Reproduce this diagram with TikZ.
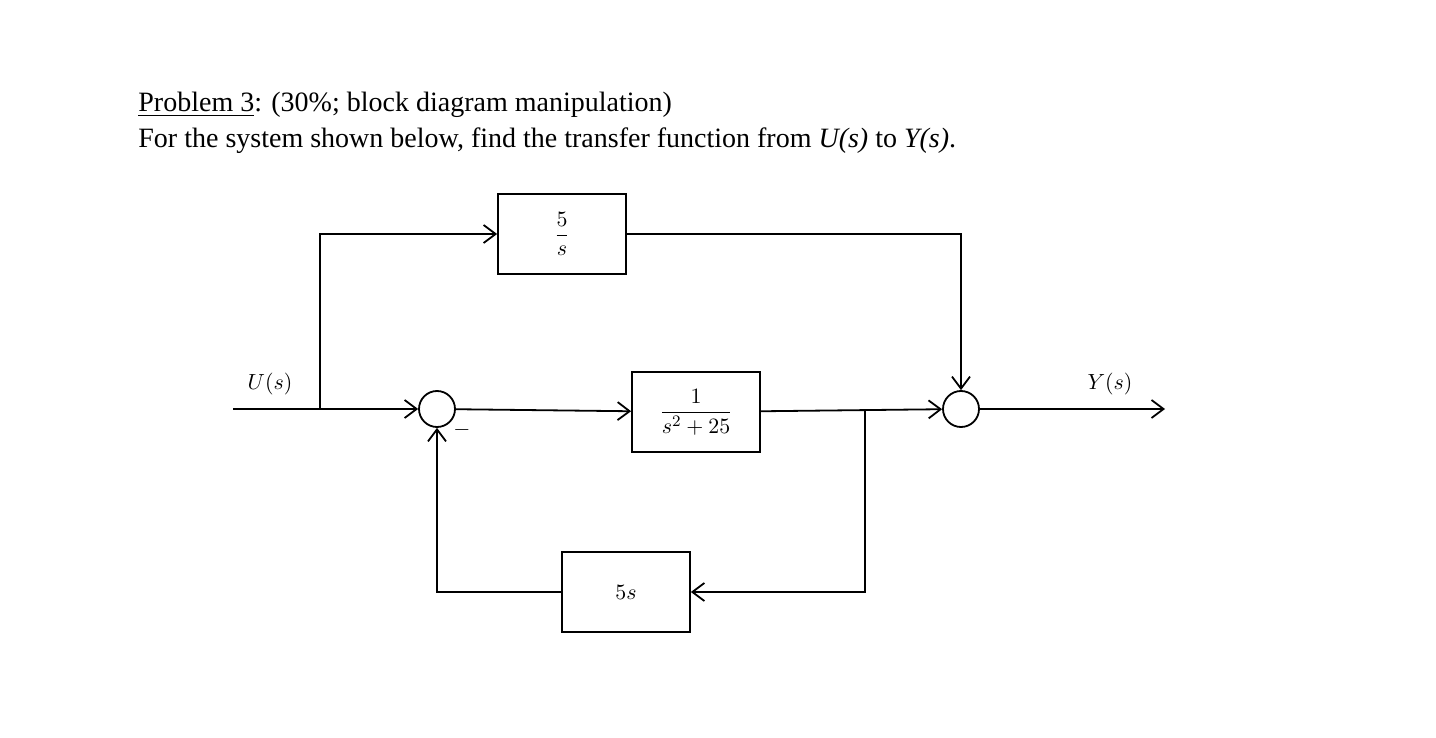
\documentclass[tikz,border=0pt]{standalone}
\usepackage{fontspec}
\setmainfont{Liberation Serif}
\usetikzlibrary{arrows.meta}
\begin{document}
\begin{tikzpicture}[x=0.5pt,y=-0.5pt,
  blk/.style={draw,line width=0.9pt,minimum width=64pt,minimum height=40pt,inner sep=0pt},
  sumc/.style={draw,circle,line width=0.9pt,minimum size=18pt,inner sep=0pt},
  ln/.style={line width=0.9pt},
  ar/.style={ln,-{Straight Barb[length=6pt,width=9pt]}},
  txt/.style={font=\fontsize{14}{16}\selectfont,anchor=base west,inner sep=0pt}]
\useasboundingbox (0,0) rectangle (1436,738);
\node[txt] (t1) at (138,112) {\underline{Problem 3}: (30\%; block diagram manipulation)};
\node[txt] (t2) at (138,148) {For the system shown below, find the transfer function from \textit{U(s)} to \textit{Y(s)}.};
\node[blk] (g1) at (562,234) {\fontsize{11}{12}\selectfont$\displaystyle\frac{5}{s}$};
\node[blk] (g2) at (696,412) {\fontsize{11}{12}\selectfont$\displaystyle\frac{1}{s^{2}+25}$};
\node[blk] (h) at (626,592) {\fontsize{11}{12}\selectfont$5s$};
\node[sumc] (s1) at (437,409) {};
\node[sumc] (s2) at (961,409) {};
\coordinate (in) at (233,409);
\coordinate (out) at (1165,409);
\coordinate (br1) at (320,409);
\coordinate (br2) at (865,409);
\node[font=\fontsize{11}{12}\selectfont] (ul) at (270,384) {$U(s)$};
\node[font=\fontsize{11}{12}\selectfont] (yl) at (1110,384) {$Y(s)$};
\node[font=\fontsize{11}{12}\selectfont] (mn) at (462,430) {$-$};
\draw[ar] (in) -- (s1);
\draw[ar] (br1) |- (g1);
\draw[ar] (g1) -| (s2);
\draw[ar] (s1) -- (g2);
\draw[ar] (g2) -- (s2);
\draw[ar] (s2) -- (out);
\draw[ar] (br2) |- (h);
\draw[ar] (h) -| (s1);
\end{tikzpicture}
\end{document}
